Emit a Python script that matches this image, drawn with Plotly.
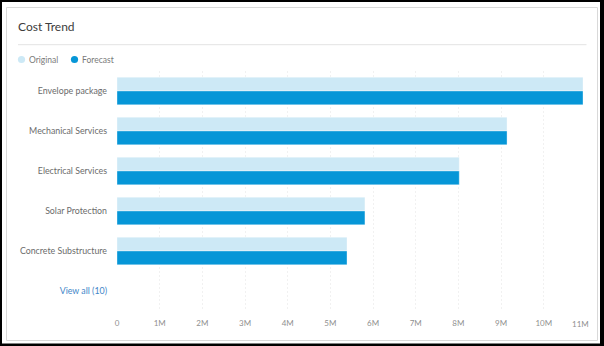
import plotly.graph_objects as go

# ---- data -------------------------------------------------------------
categories = [
    "Envelope package",
    "Mechanical Services",
    "Electrical Services",
    "Solar Protection",
    "Concrete Substructure",
]
original = [10.92e6, 9.14e6, 8.02e6, 5.81e6, 5.39e6]
forecast = [10.92e6, 9.14e6, 8.02e6, 5.81e6, 5.39e6]

series_names = ["Original", "Forecast"]
series_colors = ["#cde9f6", "#0696d7"]

x_tick_values = [0, 1e6, 2e6, 3e6, 4e6, 5e6, 6e6, 7e6, 8e6, 9e6, 10e6]
x_tick_labels = ["0", "1M", "2M", "3M", "4M", "5M", "6M", "7M", "8M", "9M", "10M"]
x_end_label = "11M"

view_all_label = "View all (10)"
title_text = "Cost Trend"

# ---- layout geometry (pixels) ------------------------------------------
W, H = 604, 346
ML, MR, MT, MB = 117, 21, 71, 35
PW, PH = W - ML - MR, H - MT - MB

FONT = "Lato"
TEXT_GREY = "#6b6b6b"
AXIS_GREY = "#8f8f8f"


def px(x):
    """horizontal pixel -> paper coordinate"""
    return (x - ML) / PW


def py(y):
    """vertical pixel (from top) -> paper coordinate"""
    return (H - MB - y) / PH


fig = go.Figure()

for name, vals, col in zip(series_names, [original, forecast], series_colors):
    fig.add_trace(
        go.Bar(
            name=name,
            y=categories,
            x=vals,
            orientation="h",
            marker=dict(color=col, line=dict(color="rgba(255,255,255,0.35)", width=1)),
            showlegend=False,
            hoverinfo="x+y+name",
        )
    )

y_labels = categories + [view_all_label]
y_ticktext = categories + [f"<span style='color:#3f86c8'>{view_all_label}</span>"]

shapes = [
    # outer frame
    dict(type="rect", xref="paper", yref="paper", x0=px(0), x1=px(W), y0=py(H), y1=py(0),
         fillcolor="#000000", line=dict(width=0), layer="below"),
    dict(type="rect", xref="paper", yref="paper", x0=px(2), x1=px(600), y0=py(343.5), y1=py(2),
         fillcolor="#ffffff", line=dict(width=0), layer="below"),
    # card
    dict(type="rect", xref="paper", yref="paper", x0=px(6.5), x1=px(597.5), y0=py(340.5), y1=py(7.5),
         fillcolor="#ffffff", line=dict(color="#d9d9d9", width=1), layer="below"),
    # header separator
    dict(type="line", xref="paper", yref="paper", x0=px(18), x1=px(586.5), y0=py(44.7), y1=py(44.7),
         line=dict(color="#e3e3e3", width=1), layer="below"),
]

# legend dots
legend_dots = [21.5, 74.5]
for cx, col in zip(legend_dots, series_colors):
    shapes.append(dict(type="circle", xref="paper", yref="paper",
                       x0=px(cx - 3.6), x1=px(cx + 3.6), y0=py(59.5 + 3.6), y1=py(59.5 - 3.6),
                       fillcolor=col, line=dict(width=0)))

annotations = [
    dict(text=title_text, xref="paper", yref="paper", x=px(16), y=py(26), xanchor="left",
         yanchor="middle", showarrow=False, font=dict(family=FONT, size=12, color="#3c3c3c")),
    dict(text=series_names[0], xref="paper", yref="paper", x=px(26.5), y=py(59.5), xanchor="left",
         yanchor="middle", showarrow=False, font=dict(family=FONT, size=8.5, color="#7a7a7a")),
    dict(text=series_names[1], xref="paper", yref="paper", x=px(79.5), y=py(59.5), xanchor="left",
         yanchor="middle", showarrow=False, font=dict(family=FONT, size=8.5, color="#7a7a7a")),
    # closing tick label at the right end of the value axis
    dict(text=x_end_label, xref="x domain", yref="paper", x=1, y=py(323.5), xanchor="center",
         yanchor="middle", xshift=-2.5, showarrow=False, font=dict(family=FONT, size=8, color=AXIS_GREY)),
]

fig.update_layout(
    width=W,
    height=H,
    margin=dict(l=ML, r=MR, t=MT, b=MB, pad=0),
    paper_bgcolor="#ffffff",
    plot_bgcolor="rgba(0,0,0,0)",
    barmode="group",
    bargap=0.31,
    bargroupgap=0,
    shapes=shapes,
    annotations=annotations,
    font=dict(family=FONT),
    xaxis=dict(
        range=[0, max(forecast)],
        tickmode="array",
        tickvals=x_tick_values,
        ticktext=x_tick_labels,
        showgrid=True,
        gridcolor="#f1f1f1",
        griddash="2px,2px",
        gridwidth=1,
        zeroline=False,
        showline=False,
        ticks="",
        ticklabelstandoff=6,
        tickfont=dict(family=FONT, size=8, color=AXIS_GREY),
        fixedrange=True,
    ),
    yaxis=dict(
        type="category",
        categoryorder="array",
        categoryarray=y_labels,
        tickmode="array",
        tickvals=y_labels,
        ticktext=y_ticktext,
        range=[len(y_labels) - 0.5, -0.5],
        showgrid=False,
        zeroline=False,
        showline=False,
        ticks="",
        ticklabelstandoff=9,
        tickfont=dict(family=FONT, size=8.8, color=TEXT_GREY),
        fixedrange=True,
    ),
)

fig.write_html("out.html", config=dict(displayModeBar=False))
